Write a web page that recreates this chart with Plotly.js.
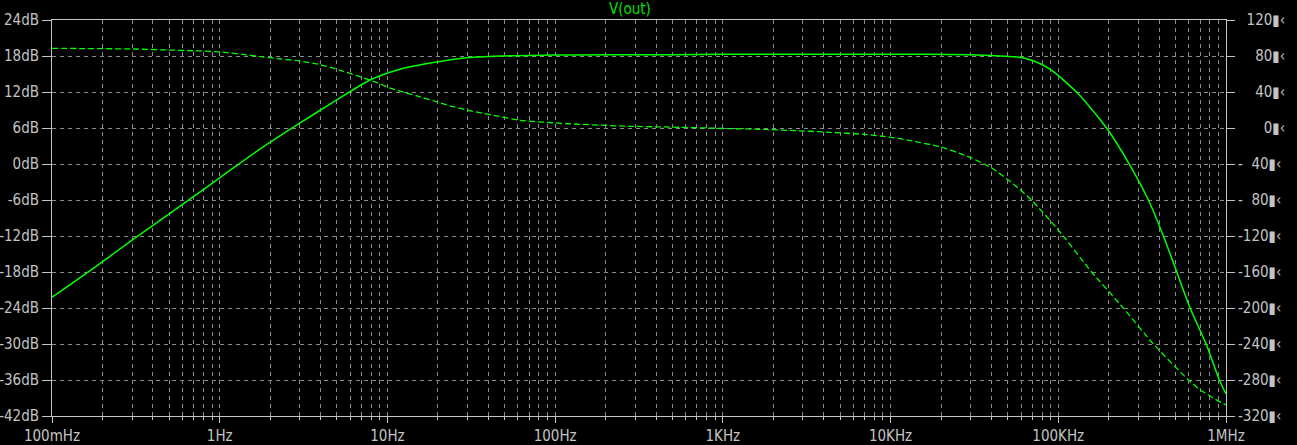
<!DOCTYPE html>
<html>
<head>
<meta charset="utf-8">
<script src="https://cdn.plot.ly/plotly-3.0.1.min.js"></script>
<style>
html,body{margin:0;padding:0;background:#000;}
#chart{width:1297px;height:445px;}
</style>
</head>
<body>
<div id="chart"></div>
<script>
// ---- data ----
const magFreq = [0.1, 0.168, 0.3, 0.5, 1, 1.7, 3, 4.75, 7.87, 11.9, 18.8, 29.7, 47, 70, 100, 200, 500, 1000, 3000, 10000, 30000, 45000, 59000, 71000, 89300, 128800, 194500, 265400, 344600, 423300, 508800, 610600, 760800, 913300, 1000000];
const magDb = [-22.2, -17.8, -12.7, -8.3, -2.3, 2.3, 6.8, 10.3, 14.0, 15.8, 16.9, 17.7, 18.0, 18.1, 18.15, 18.2, 18.2, 18.3, 18.3, 18.3, 18.2, 18.0, 17.8, 17.2, 15.8, 11.95, 5.95, -0.05, -6.0, -12.0, -18.0, -24.0, -30.0, -36.0, -38.3];

const phFreq = [0.1, 0.3, 0.5, 0.763, 1, 1.58, 2.29, 3, 3.96, 4.75, 5.46, 6.56, 7.87, 9.04, 10.4, 11.9, 15, 18.8, 23.6, 29.7, 37.3, 44.6, 61.8, 89, 140, 280, 556, 1100, 1750, 2760, 4360, 6890, 8650, 11100, 13100, 19700, 29800, 40100, 54000, 69500, 98000, 107000, 158000, 244000, 369000, 597000, 701000, 804000, 842000, 1000000];
const phDeg = [88.5, 87.8, 86.6, 85.6, 84.6, 80.4, 76.7, 74.4, 70.5, 66.5, 63, 58.2, 53.3, 48.9, 44.3, 41, 35.6, 30.2, 24.6, 20, 16.3, 13.5, 8.5, 6.3, 4.1, 1.9, 0.8, -0.7, -1.5, -3, -4.8, -7, -8.9, -11.6, -14.1, -20.7, -32.6, -44.5, -62.2, -80.3, -111.4, -120, -160, -200, -240, -280, -291.1, -297.8, -300.3, -307.8];

const xTickVals = [0.1, 1, 10, 100, 1000, 10000, 100000, 1000000];
const xTickText = ["100mHz", "1Hz", "10Hz", "100Hz", "1KHz", "10KHz", "100KHz", "1MHz"];
const yTickVals = [-42, -36, -30, -24, -18, -12, -6, 0, 6, 12, 18, 24];
const yTickText = ["-42dB", "-36dB", "-30dB", "-24dB", "-18dB", "-12dB", "-6dB", "0dB", "6dB", "12dB", "18dB", "24dB"];
const y2TickVals = [-320, -280, -240, -200, -160, -120, -80, -40, 0, 40, 80, 120];
const y2TickLabels = ["-320", "-280", "-240", "-200", "-160", "-120", "-80", "-40", "0", "40", "80", "120"];
const traceName = "V(out)";

// ---- derived ----
const minorVals = [];
for (let d = -1; d < 6; d++) {
  for (let m = 2; m <= 9; m++) minorVals.push(m * Math.pow(10, d));
}
const FS = "\u2007"; // figure space
function padLabel(s) {
  let neg = s[0] === "-";
  let digits = neg ? s.slice(1) : s;
  let pad = FS.repeat(3 - digits.length);
  return (neg ? "-" : FS) + pad + digits + "\u25AE\u2039";
}
const y2TickText = y2TickLabels.map(padLabel);

const textCol = "#c4c4c4";
const gridCol = "#8a8a8a";
const font = {family: "DejaVu Sans Condensed, Liberation Sans Narrow, sans-serif", size: 15, color: textCol};

const traces = [
  {x: magFreq, y: magDb, type: "scatter", mode: "lines", yaxis: "y",
   line: {color: "#00ff00", width: 1.5, shape: "spline", smoothing: 0.7}, hoverinfo: "skip", name: traceName},
  {x: phFreq, y: phDeg, type: "scatter", mode: "lines", yaxis: "y2",
   line: {color: "#00ff00", width: 1.3, dash: "6px,3px", shape: "spline", smoothing: 0.5}, hoverinfo: "skip", name: traceName}
];

const layout = {
  width: 1297, height: 445,
  paper_bgcolor: "#000", plot_bgcolor: "#000",
  margin: {l: 52, r: 71, t: 20, b: 29},
  showlegend: false,
  font: font,
  title: {text: traceName, x: 0.4923, xanchor: "center", xref: "paper", y: 0.98, yref: "container", yanchor: "middle",
          font: {family: font.family, size: 15, color: "#00e000"}},
  xaxis: {
    type: "log", range: [-1, 6], tickmode: "array", tickvals: xTickVals, ticktext: xTickText,
    ticks: "outside", ticklen: 6, tickwidth: 1, tickcolor: textCol,
    showline: true, linecolor: textCol, linewidth: 1, mirror: true,
    showgrid: true, gridcolor: gridCol, griddash: "4px,4px", gridwidth: 1,
    zeroline: false, tickfont: font, ticklabelstandoff: 0,
    minor: {tickmode: "array", tickvals: minorVals, ticks: "outside", ticklen: 3, tickcolor: textCol,
            showgrid: true, gridcolor: gridCol, griddash: "4px,4px", gridwidth: 1}
  },
  yaxis: {
    range: [-42, 24], tickmode: "array", tickvals: yTickVals, ticktext: yTickText,
    ticks: "outside", ticklen: 9, tickcolor: textCol,
    showline: true, linecolor: textCol, linewidth: 1,
    showgrid: true, gridcolor: gridCol, griddash: "4px,4px", gridwidth: 1,
    zeroline: false, tickfont: font, ticklabelstandoff: 0
  },
  yaxis2: {
    overlaying: "y", side: "right", anchor: "x",
    range: [-320, 120], tickmode: "array", tickvals: y2TickVals, ticktext: y2TickText,
    ticks: "outside", ticklen: 8, tickcolor: textCol,
    showline: true, linecolor: textCol, linewidth: 1,
    showgrid: false, zeroline: false, tickfont: font, ticklabelstandoff: 0
  }
};

Plotly.newPlot("chart", traces, layout, {staticPlot: true, displayModeBar: false});
</script>
</body>
</html>
